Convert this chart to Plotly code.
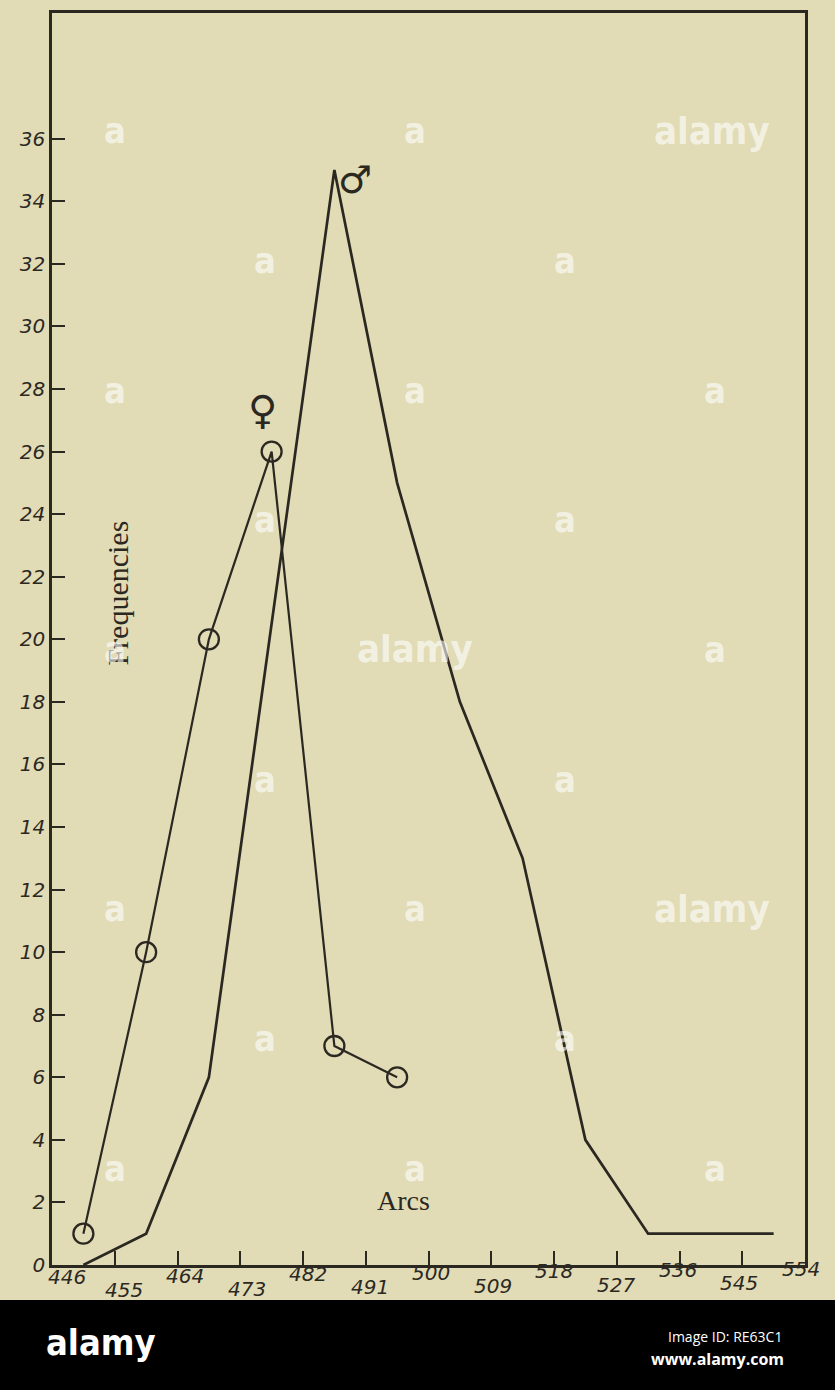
import plotly.graph_objects as go

# ---- data ----
female_arcs = [450.5, 459.5, 468.5, 477.5, 486.5, 495.5]
female_freq = [1, 10, 20, 26, 7, 6]

male_arcs = [450.5, 459.5, 468.5, 486.5, 495.5, 504.5, 513.5, 522.5, 531.5, 549.5]
male_freq = [0, 1, 6, 35, 25, 18, 13, 4, 1, 1]

y_ticks = list(range(0, 37, 2))
x_ticks = [446, 455, 464, 473, 482, 491, 500, 509, 518, 527, 536, 545, 554]

# ---- layout geometry (pixels) ----
W, H = 835, 1390
L, R, T, B = 52, 805, 10, 1265
BG = "#e1dbb6"
INK = "#2b2822"


def px(xp):
    return (xp - L) / (R - L)


def py(yp):
    return (B - yp) / (B - T)


def note(xp, yp, text, font, **kw):
    d = dict(x=px(xp), y=py(yp), xref="paper", yref="paper", text=text,
             showarrow=False, xanchor="center", yanchor="middle", font=font)
    d.update(kw)
    return d


fig = go.Figure()

fig.add_trace(go.Scatter(
    x=female_arcs, y=female_freq, mode="lines+markers",
    line=dict(color=INK, width=2.2),
    marker=dict(symbol="circle-open", size=20, color=INK, line=dict(width=2.3, color=INK)),
    name="Female", showlegend=False, cliponaxis=False,
))
fig.add_trace(go.Scatter(
    x=male_arcs, y=male_freq, mode="lines",
    line=dict(color=INK, width=2.7),
    name="Male", showlegend=False, cliponaxis=False,
))

ann = []
# staggered x tick labels
for i, v in enumerate(x_ticks):
    cy = 1277 + (i % 2) * 14 - i * 0.7
    shift = 15 if i == 0 else 10 - 1.2 * i
    ann.append(dict(x=v, xref="x", y=py(cy), yref="paper", text=str(v),
                    showarrow=False, xanchor="center", yanchor="middle", xshift=shift,
                    font=dict(family="DejaVu Sans", size=20, color=INK, style="italic")))

# axis titles
ann.append(note(118, 592, "Frequencies",
                dict(family="Liberation Serif", size=30, color=INK), textangle=-90))
ann.append(note(403, 1200, "Arcs", dict(family="Liberation Serif", size=28, color=INK)))

# sex symbols
ann.append(note(262, 408, "\u2640", dict(family="DejaVu Sans", size=40, color=INK)))
ann.append(note(355, 177, "\u2642", dict(family="DejaVu Sans", size=38, color=INK)))

# watermarks
WM = "rgba(255,255,255,0.62)"
WMF = "DejaVu Sans Condensed, DejaVu Sans, sans-serif"
small_a = [(115, 128), (415, 128), (265, 258), (565, 258), (115, 388), (415, 388), (715, 388),
           (265, 518), (565, 518), (115, 648), (715, 648), (265, 778), (565, 778),
           (115, 908), (415, 908), (265, 1038), (565, 1038), (115, 1168), (415, 1168),
           (715, 1168)]
for (xp, yp) in small_a:
    ann.append(note(xp, yp, "<b>a</b>", dict(family=WMF, size=36, color=WM)))
big = [(712, 128), (415, 648), (712, 908)]
for (xp, yp) in big:
    ann.append(note(xp, yp, "<b>alamy</b>", dict(family=WMF, size=38, color=WM)))

# bottom banner text
ann.append(note(101, 1343, "<b>alamy</b>", dict(family=WMF, size=36, color="white")))
ann.append(note(784, 1337, "Image ID: RE63C1",
                dict(family="Open Sans", size=14, color="white"), xanchor="right"))
ann.append(note(786, 1359, "<b>www.alamy.com</b>",
                dict(family="Open Sans", size=16, color="white"), xanchor="right"))

shapes = [dict(type="rect", xref="paper", yref="paper",
               x0=px(-5), x1=px(W + 5), y0=py(H + 5), y1=py(1300),
               fillcolor="black", line=dict(width=0), layer="above")]

fig.update_layout(
    width=W, height=H,
    margin=dict(l=L, r=W - R, t=T, b=H - B),
    paper_bgcolor=BG, plot_bgcolor=BG,
    annotations=ann, shapes=shapes,
    xaxis=dict(range=[446, 554], tickvals=x_ticks[1:-1], showticklabels=False,
               ticks="inside", ticklen=14, tickwidth=2, tickcolor=INK,
               showline=True, linewidth=2.5, linecolor=INK, mirror=True,
               showgrid=False, zeroline=False),
    yaxis=dict(range=[0, (B - T) / ((B - 136) / 36)], tickvals=y_ticks,
               ticktext=[str(v) for v in y_ticks],
               ticks="inside", ticklen=13, tickwidth=2, tickcolor=INK,
               tickfont=dict(family="DejaVu Sans", size=20, color=INK, style="italic"),
               showline=True, linewidth=2.5, linecolor=INK, mirror=True,
               showgrid=False, zeroline=False),
)

fig.write_html("out.html", config={"displayModeBar": False},
               post_script="document.body.style.margin='0';document.body.style.background='%s';" % BG)
